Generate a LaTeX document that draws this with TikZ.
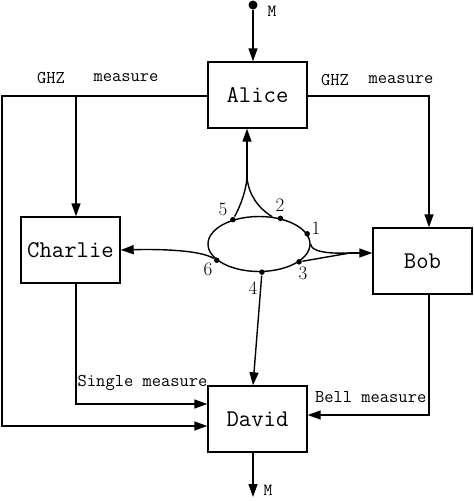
\documentclass[tikz,border=0pt]{standalone}
\usetikzlibrary{arrows.meta,shapes.geometric}
\begin{document}
\begin{tikzpicture}[x=1pt, y=-1pt, line width=1.4pt,
        party/.style={draw, minimum width=99pt, minimum height=66pt, font=\ttfamily\fontsize{24}{28}\selectfont},
        lbl/.style={font=\ttfamily\fontsize{18}{20}\selectfont, inner sep=0pt},
        num/.style={font=\fontsize{19}{21}\selectfont, inner sep=0pt},
        arr/.style={-{Triangle[length=13pt, width=9pt]}},
        qubit/.style={circle, fill=black, inner sep=0pt, minimum size=5.5pt}]
        \useasboundingbox (0,0) rectangle (474,501);

        \node[party] (alice) at (257.5,95) {Alice};
        \node[party] (charlie) at (70.5,250) {Charlie};
        \node[party] (bob) at (422.5,261) {Bob};
        \node[party] (david) at (257.5,419) {David};

        \node[circle, fill=black, inner sep=0pt, minimum size=9pt] (src) at (253,5) {};
        \node[lbl, font=\ttfamily\fontsize{17}{19}\selectfont] (m_in) at (272,11) {M};
        \coordinate (out) at (253,497);
        \node[lbl, font=\ttfamily\fontsize{17}{19}\selectfont] (m_out) at (268,490) {M};

        \node[lbl] (ghz_l) at (51,78) {GHZ};
        \node[lbl] (meas_l) at (126,78) {measure};
        \node[lbl] (ghz_r) at (335,80) {GHZ};
        \node[lbl] (meas_r) at (401,80) {measure};
        \node[lbl, anchor=west] (single) at (77,383) {Single measure};
        \node[lbl, anchor=east] (bell) at (427,397) {Bell measure};

        \node[draw, ellipse, inner sep=0pt, minimum width=102pt, minimum height=55pt] (ring) at (259,244) {};
        \node[qubit] (p1) at (ring.12) {};
        \node[qubit] (p2) at (ring.50) {};
        \node[qubit] (p3) at (ring.336) {};
        \node[qubit] (p4) at (ring.276) {};
        \node[qubit] (p5) at (ring.137) {};
        \node[qubit] (p6) at (ring.201) {};
        \node[num] (n1) at (316,228) {1};
        \node[num] (n2) at (280,205) {2};
        \node[num] (n3) at (303,273) {3};
        \node[num] (n4) at (253,288) {4};
        \node[num] (n5) at (223,209) {5};
        \node[num] (n6) at (208,269) {6};

        \coordinate (tl) at (2,96);
        \coordinate (bl) at (2,426);
        \coordinate (tb) at (76,96);
        \coordinate (sm) at (76,404);
        \coordinate (tr) at (429,96);
        \coordinate (br) at (429,415);
        \coordinate (cusp_a) at (247,178);
        \coordinate (cusp_b) at (350,253);

        \draw[arr] (src) -- (alice.north -| src);
        \draw[arr] (alice.west |- tl) -- (tl) -- (bl) -- (bl -| david.west);
        \draw[arr] (tb) -- (charlie.north -| tb);
        \draw[arr] (charlie.south -| sm) -- (sm) -- (sm -| david.west);
        \draw[arr] (alice.east |- tr) -- (tr) -- (bob.north -| tr);
        \draw[arr] (bob.south -| br) -- (br) -- (br -| david.east);
        \draw[arr] (david.south -| out) -- (out);

        \draw (p5) .. controls (241,205) and (246,190) .. (cusp_a);
        \draw (ring.64) .. controls (258,208) and (249,195) .. (cusp_a);
        \draw[arr] (cusp_a) -- (alice.south -| cusp_a);
        \draw (ring.east) .. controls (311,251) and (325,254) .. (cusp_b);
        \draw (p3) -- (cusp_b);
        \draw[arr] (cusp_b) -- (bob.west |- cusp_b);
        \draw[arr] (p6) .. controls (200,250) and (160,249) .. (charlie.east);
        \draw[arr] (p4) -- (david.north -| src);
    \end{tikzpicture}
\end{document}
